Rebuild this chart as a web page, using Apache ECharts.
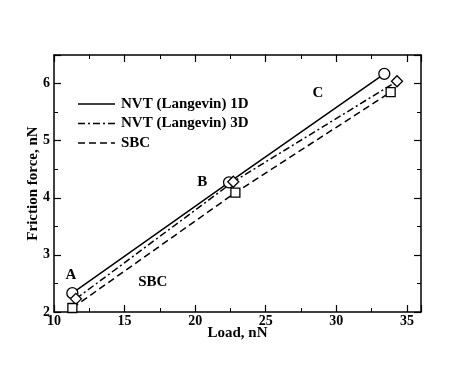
<!DOCTYPE html>
<html><head><meta charset="utf-8">
<script src="https://cdn.jsdelivr.net/npm/echarts@6/dist/echarts.min.js"></script>
<style>html,body{margin:0;padding:0;background:#fff}#c{width:474px;height:366px}</style>
</head><body><div id="c"></div>
<script>
// Data
const seriesNames = ['NVT (Langevin) 1D', 'NVT (Langevin) 3D', 'SBC'];
const loadNVT1D = [11.3, 22.4, 33.4];
const fricNVT1D = [2.33, 4.27, 6.17];
const loadNVT3D = [11.55, 22.7, 34.3];
const fricNVT3D = [2.23, 4.28, 6.04];
const loadSBC = [11.3, 22.85, 33.85];
const fricSBC = [2.07, 4.09, 5.85];
const annotations = [['A', 11.2, 2.64], ['B', 20.5, 4.28], ['C', 28.7, 5.83], ['SBC', 17.0, 2.52]];
const xTicks = [10, 15, 20, 25, 30, 35];
const yTicks = [2, 3, 4, 5, 6];

const FONT = '"Liberation Serif", "Times New Roman", serif';
const zip = (a, b) => a.map((v, i) => [v, b[i]]);
const styles = [
  {symbol: 'circle', size: 11, type: 'solid'},
  {symbol: 'diamond', size: 11, type: [7, 3, 2, 3]},
  {symbol: 'rect', size: 9, type: [7, 4]}
];
const datas = [zip(loadNVT1D, fricNVT1D), zip(loadNVT3D, fricNVT3D), zip(loadSBC, fricSBC)];

const chart = echarts.init(document.getElementById('c'));
const baseAxis = {
  axisLine: {lineStyle: {color: '#000', width: 1.5}},
  axisTick: {inside: true, length: 7, lineStyle: {color: '#000', width: 1.2}},
  minorTick: {show: true, splitNumber: 2, length: 4, lineStyle: {color: '#000', width: 1}},
  splitLine: {show: false},
  axisLabel: {color: '#000', fontFamily: FONT, fontWeight: 'bold', fontSize: 14}
};
const series = datas.map((d, i) => ({
  name: seriesNames[i], type: 'line', data: d,
  symbol: styles[i].symbol, symbolSize: styles[i].size, showSymbol: true,
  itemStyle: {color: '#fff', borderColor: '#000', borderWidth: 1.3},
  lineStyle: {color: '#000', width: 1.5, type: styles[i].type},
  z: 3, animation: false
}));
series.push({
  type: 'scatter', data: annotations.map(a => ({value: [a[1], a[2]], name: a[0]})),
  symbolSize: 1, itemStyle: {opacity: 0}, silent: true, animation: false,
  label: {show: true, position: 'inside', formatter: p => p.name, color: '#000', opacity: 1,
    textBorderWidth: 0, fontFamily: FONT, fontWeight: 'bold', fontSize: 15}
});

// legend drawn from series styles
const legendGraphics = [];
const legendY = [104, 123.5, 143];
seriesNames.forEach((n, i) => {
  const y = legendY[i];
  legendGraphics.push({type: 'line', shape: {x1: 78, y1: y, x2: 115, y2: y},
    style: {stroke: '#000', lineWidth: 1.5, lineDash: Array.isArray(styles[i].type) ? styles[i].type : null}});
  legendGraphics.push({type: 'text', x: 121, y: y, style: {text: n, fill: '#000',
    font: 'bold 15px ' + FONT, textVerticalAlign: 'middle', verticalAlign: 'middle'}});
});

chart.setOption({
  backgroundColor: '#fff',
  animation: false,
  grid: {left: 54, right: 53, top: 55, bottom: 54},
  xAxis: [
    Object.assign({}, baseAxis, {type: 'value', min: 10, max: 36, interval: 5,
      name: 'Load, nN', nameLocation: 'middle', nameGap: 14, nameMoveOverlap: false,
      nameTextStyle: {color: '#000', fontFamily: FONT, fontWeight: 'bold', fontSize: 15},
      axisLabel: Object.assign({}, baseAxis.axisLabel, {margin: 2, showMaxLabel: false,
        formatter: v => xTicks.includes(v) ? String(v) : ''})}),
    Object.assign({}, baseAxis, {type: 'value', position: 'top', min: 10, max: 36, interval: 5,
      axisLabel: {show: false}})
  ],
  yAxis: [
    Object.assign({}, baseAxis, {type: 'value', min: 2, max: 6.5, interval: 1,
      name: 'Friction force, nN', nameLocation: 'middle', nameGap: 13, nameMoveOverlap: false,
      nameTextStyle: {color: '#000', fontFamily: FONT, fontWeight: 'bold', fontSize: 15},
      axisLabel: Object.assign({}, baseAxis.axisLabel, {margin: 4, showMaxLabel: false,
        formatter: v => yTicks.includes(v) ? String(v) : ''})}),
    Object.assign({}, baseAxis, {type: 'value', position: 'right', min: 2, max: 6.5, interval: 1,
      axisLabel: {show: false}})
  ],
  series: series,
  graphic: legendGraphics
});
</script></body></html>
